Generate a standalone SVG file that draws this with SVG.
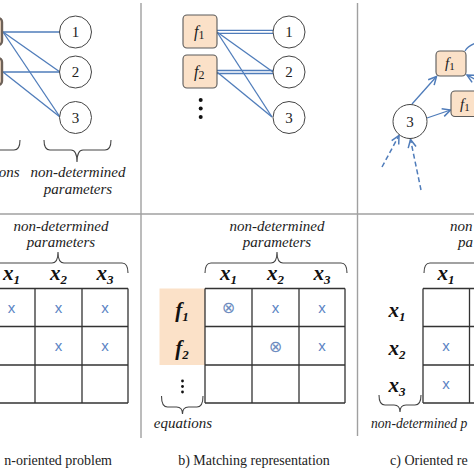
<svg xmlns="http://www.w3.org/2000/svg" width="474" height="474" viewBox="0 0 474 474" font-family="'Liberation Serif', 'Times New Roman', Times, serif">
<defs>
<marker id="ah" markerUnits="userSpaceOnUse" markerWidth="12" markerHeight="10" refX="9" refY="5" orient="auto">
<path d="M1,1 L9,5 L1,9" fill="none" stroke="#4f7cba" stroke-width="1.5" stroke-linejoin="miter"/>
</marker>
</defs>
<style>
.div{stroke:#a0a0a0;stroke-width:1.4;fill:none}
.ln{stroke:#4f7cba;stroke-width:1.3;fill:none}
.dash{stroke:#4f7cba;stroke-width:1.5;fill:none;stroke-dasharray:5 3}
.box{fill:#fbe1c8;stroke:#5a5a5a;stroke-width:1.1}
.abox{fill:#fbe1c8;stroke:#6e6259;stroke-width:2.4}
.cir{fill:#fff;stroke:#444;stroke-width:1}
.grid{stroke:#333;stroke-width:1.3;fill:none}
.brace{stroke:#444;stroke-width:1.1;fill:none}
text{font-family:'Liberation Serif','Times New Roman',Times,serif}
.t{fill:#222}
.num{font-size:15px;fill:#222;text-anchor:middle}
.it{font-style:italic;font-size:15px;fill:#222}
.hd{font-style:italic;font-weight:bold;font-size:21px;fill:#111;text-anchor:middle}
.sub{font-size:13px}
text.mk{font-family:'Liberation Sans',Arial,sans-serif;font-size:15px;fill:#5b84c4;text-anchor:middle}
text.om{font-family:'DejaVu Sans',sans-serif;font-size:16px;fill:#6d8cc0;text-anchor:middle}
.cap{font-size:14px;fill:#222}
</style>

<g id="dividers">
<line class="div" x1="141" y1="3" x2="141" y2="438"/>
<line class="div" x1="357.5" y1="3" x2="357.5" y2="436"/>
<line class="div" x1="0" y1="214" x2="474" y2="214"/>
</g>

<g id="connectors">
<line class="ln" x1="3" y1="32" x2="60" y2="32"/>
<line class="ln" x1="3" y1="32" x2="60" y2="72"/>
<line class="ln" x1="3" y1="32" x2="60" y2="117"/>
<line class="ln" x1="3" y1="72" x2="60" y2="72"/>
<line class="ln" x1="3" y1="72" x2="60" y2="117"/>
<line class="ln" x1="217" y1="30.3" x2="273" y2="30.3"/>
<line class="ln" x1="217" y1="33.3" x2="273" y2="33.3"/>
<line class="ln" x1="217" y1="32" x2="273" y2="72"/>
<line class="ln" x1="217" y1="32" x2="272" y2="117"/>
<line class="ln" x1="217" y1="70.5" x2="273" y2="70.5"/>
<line class="ln" x1="217" y1="73.5" x2="273" y2="73.5"/>
<line class="ln" x1="217" y1="72" x2="272" y2="117"/>
<line class="ln" x1="412" y1="104" x2="436.5" y2="76.5" marker-end="url(#ah)"/>
<line class="ln" x1="427" y1="118" x2="450.5" y2="110" marker-end="url(#ah)"/>
<path class="ln" d="M465,51 Q468,46 476,43"/>
<line class="ln" x1="478" y1="81" x2="467" y2="75" marker-end="url(#ah)"/>
<line class="dash" x1="382" y1="167" x2="399" y2="135.5" marker-end="url(#ah)"/>
<line class="dash" x1="421" y1="190" x2="410.5" y2="139.5" marker-end="url(#ah)"/>
</g>

<g id="a-eq1"><rect class="abox" x="-31" y="18" width="33" height="27" rx="4"/></g>
<g id="a-eq2"><rect class="abox" x="-31" y="58" width="33" height="27" rx="4"/></g>
<g id="a-p1"><circle class="cir" cx="75.5" cy="32" r="16"/><text class="num" x="75.5" y="37">1</text></g>
<g id="a-p2"><circle class="cir" cx="75.5" cy="72" r="16"/><text class="num" x="75.5" y="77">2</text></g>
<g id="a-p3"><circle class="cir" cx="75.5" cy="117.5" r="16"/><text class="num" x="75.5" y="122.5">3</text></g>
<g id="a-labels">
<path class="brace" d="M-40,150 L14,150 Q20,150 20,140"/>
<path class="brace" d="M44,140 Q44,150 50,150 L71,150 Q77,150 77,162 Q77,150 83,150 L105,150 Q111,150 111,140"/>
<text class="it" x="19.5" y="177" text-anchor="end">ons</text>
<text class="it" x="78" y="177" text-anchor="middle">non-determined</text>
<text class="it" x="78" y="194" text-anchor="middle">parameters</text>
</g>

<g id="b-f1"><rect class="box" x="183" y="15" width="34" height="33" rx="4"/><text class="t" x="194" y="37" font-size="16"><tspan font-style="italic">f</tspan><tspan font-size="12" dy="2">1</tspan></text></g>
<g id="b-f2"><rect class="box" x="183" y="55" width="34" height="33" rx="4"/><text class="t" x="194" y="77" font-size="16"><tspan font-style="italic">f</tspan><tspan font-size="12" dy="2">2</tspan></text></g>
<g id="b-dots" fill="#111"><circle cx="200.7" cy="100" r="2"/><circle cx="200.7" cy="108.5" r="2"/><circle cx="200.7" cy="117" r="2"/></g>
<g id="b-p1"><circle class="cir" cx="289" cy="32" r="16"/><text class="num" x="289" y="37">1</text></g>
<g id="b-p2"><circle class="cir" cx="289" cy="72" r="16"/><text class="num" x="289" y="77">2</text></g>
<g id="b-p3"><circle class="cir" cx="289" cy="117.5" r="16"/><text class="num" x="289" y="122.5">3</text></g>

<g id="c-f1"><rect class="box" x="436" y="51" width="30" height="25" rx="4"/><text class="t" x="445" y="68" font-size="15"><tspan font-style="italic">f</tspan><tspan font-size="11" dy="2">1</tspan></text></g>
<g id="c-f2"><rect class="box" x="451" y="91" width="30" height="25.5" rx="4"/><text class="t" x="460" y="108.5" font-size="15"><tspan font-style="italic">f</tspan><tspan font-size="11" dy="2">1</tspan></text></g>
<g id="c-p3"><circle class="cir" cx="410" cy="121.5" r="17"/><text class="num" x="410" y="127">3</text></g>

<g id="table-a">
<text class="it" x="61" y="231" text-anchor="middle">non-determined</text>
<text class="it" x="61" y="247" text-anchor="middle">parameters</text>
<path class="brace" d="M-12,273 Q-12,263 -6,263 L52,263 Q58,263 58,252 Q58,263 64,263 L122,263 Q128,263 128,273"/>
<text class="hd" x="11.5" y="280">x<tspan class="sub" dy="4">1</tspan></text>
<text class="hd" x="58.5" y="280">x<tspan class="sub" dy="4">2</tspan></text>
<text class="hd" x="105" y="280">x<tspan class="sub" dy="4">3</tspan></text>
<path class="grid" d="M-12,288.5 H128 M-12,326.5 H128 M-12,365 H128 M-12,403 H128 M-12,288.5 V403 M35,288.5 V403 M82,288.5 V403 M128,288.5 V403"/>
<text class="mk" x="11.5" y="313">x</text>
<text class="mk" x="58.5" y="313">x</text>
<text class="mk" x="105" y="313">x</text>
<text class="mk" x="58.5" y="351">x</text>
<text class="mk" x="105" y="351">x</text>
<text class="cap" x="112" y="465" text-anchor="end">n-oriented problem</text>
</g>

<g id="table-b">
<text class="it" x="277" y="231" text-anchor="middle">non-determined</text>
<text class="it" x="277" y="247" text-anchor="middle">parameters</text>
<path class="brace" d="M205,273 Q205,263 211,263 L271,263 Q277,263 277,252 Q277,263 283,263 L341,263 Q347,263 347,273"/>
<text class="hd" x="228.5" y="280">x<tspan class="sub" dy="4">1</tspan></text>
<text class="hd" x="275.5" y="280">x<tspan class="sub" dy="4">2</tspan></text>
<text class="hd" x="322" y="280">x<tspan class="sub" dy="4">3</tspan></text>
<rect x="159.5" y="288.5" width="45.5" height="76.5" fill="#fbe1c8"/>
<text class="hd" x="182" y="317">f<tspan class="sub" dy="4">1</tspan></text>
<text class="hd" x="182" y="355">f<tspan class="sub" dy="4">2</tspan></text>
<g fill="#111"><circle cx="182.5" cy="381" r="1.4"/><circle cx="182.5" cy="386.5" r="1.4"/><circle cx="182.5" cy="392" r="1.4"/></g>
<path class="grid" d="M205,288.5 H345 M205,326.5 H345 M205,365 H345 M205,403 H345 M205,288.5 V403 M252,288.5 V403 M299,288.5 V403 M345,288.5 V403"/>
<text class="om" x="228.5" y="313">⊗</text>
<text class="mk" x="275.5" y="313">x</text>
<text class="mk" x="322" y="313">x</text>
<text class="om" x="275.5" y="351.5">⊗</text>
<text class="mk" x="322" y="351">x</text>
<path class="brace" d="M161.5,396 Q161.5,407 167.5,407 L176.5,407 Q182.5,407 182.5,414 Q182.5,407 188.5,407 L197,407 Q203,407 203,396"/>
<text class="it" x="183" y="428" text-anchor="middle">equations</text>
<text class="cap" x="254" y="465" text-anchor="middle">b) Matching  representation</text>
</g>

<g id="table-c">
<text class="it" x="450" y="231">non</text>
<text class="it" x="458" y="247">pa</text>
<path class="brace" d="M424,273 Q424,263 430,263 L480,263"/>
<text class="hd" x="446" y="280">x<tspan class="sub" dy="4">1</tspan></text>
<text class="hd" x="397" y="317">x<tspan class="sub" dy="4">1</tspan></text>
<text class="hd" x="397" y="355">x<tspan class="sub" dy="4">2</tspan></text>
<text class="hd" x="397" y="392">x<tspan class="sub" dy="4">3</tspan></text>
<path class="grid" d="M423,288.5 H480 M423,326.5 H480 M423,365 H480 M423,403 H480 M423,288.5 V403 M469.5,288.5 V403"/>
<text class="mk" x="446" y="351">x</text>
<text class="mk" x="446" y="389">x</text>
<path class="brace" d="M379,395 Q379,405 385,405 L394,405 Q400,405 400,412 Q400,405 406,405 L415,405 Q421,405 421,395"/>
<text class="it" x="371" y="428" style="font-size:13.6px">non-determined p</text>
<text class="cap" x="390" y="465">c) Oriented re</text>
</g>
</svg>
